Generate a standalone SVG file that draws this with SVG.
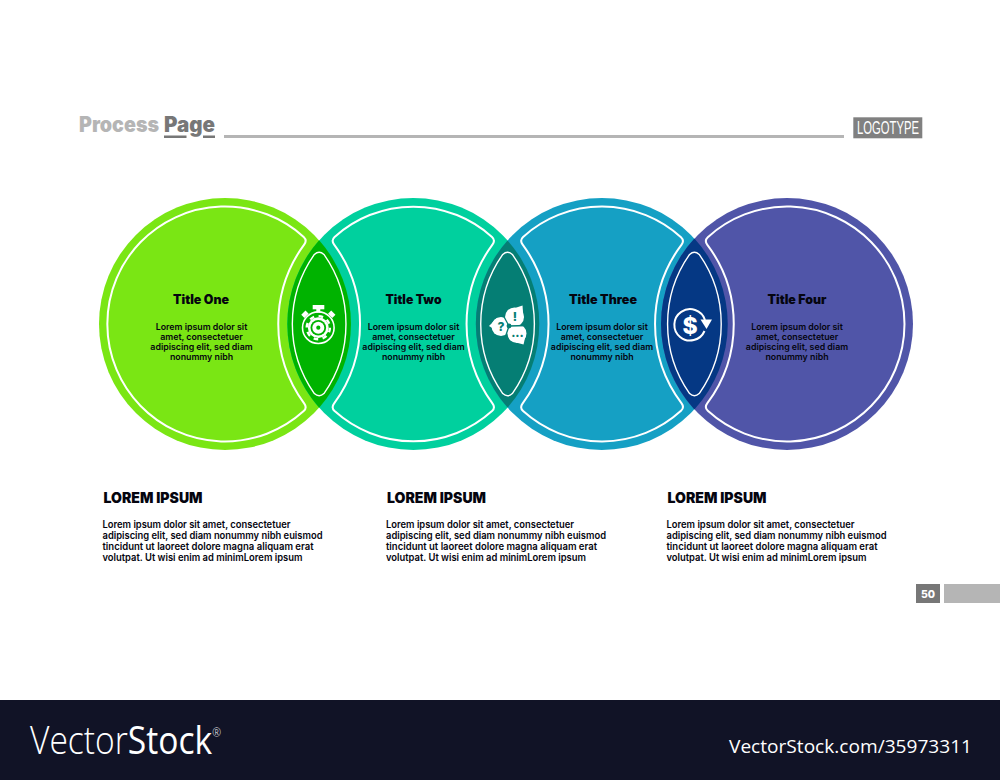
<svg xmlns="http://www.w3.org/2000/svg" width="1000" height="780" viewBox="0 0 1000 780">
<style>
text{font-family:"Inter","Liberation Sans",sans-serif;fill:#05050f}
.t{font-size:12.5px;font-weight:900;text-anchor:middle}
.b{font-size:8.8px;font-weight:600;text-anchor:middle}
.h{font-size:14.5px;font-weight:900}
.p{font-size:10.2px;font-weight:600}
.o{fill:none;stroke:#fff;stroke-width:2}
.l{fill:none;stroke:#fff;stroke-width:1.4}
.w{fill:#fff}
</style>
<defs>
<path id="lensIn" d="M4.8,-69.6A121 121 0 0 1 4.8,69.6Q0,74 -4.8,69.6A121 121 0 0 1 -4.8,-69.6Q0,-74 4.8,-69.6Z"/>
</defs>
<rect width="1000" height="780" fill="#fff"/>
<g id="header">
<text x="79" y="131.5" style="font-size:21px;font-weight:900;fill:#b5b5b5" textLength="80" lengthAdjust="spacingAndGlyphs">Process</text>
<text x="164" y="131.5" style="font-size:21px;font-weight:900;fill:#777" textLength="51" lengthAdjust="spacingAndGlyphs">Page</text>
<rect x="164" y="135.5" width="22.5" height="2.5" fill="#777"/>
<rect x="203" y="135.5" width="12" height="2.5" fill="#777"/>
<rect x="224" y="135" width="620" height="3" fill="#b5b5b5"/>
<rect x="853.3" y="117.3" width="69" height="21" fill="#808080"/>
<text x="888" y="133.5" style="font-family:'Liberation Sans Narrow','Liberation Sans',sans-serif;font-size:18px;fill:#fff;text-anchor:middle" textLength="62" lengthAdjust="spacingAndGlyphs">LOGOTYPE</text>
</g>
<g id="circles">
<circle id="c1" cx="225" cy="324" r="126" fill="#7ae614"/>
<circle id="c2" cx="413.3" cy="324" r="126" fill="#00d09e"/>
<circle id="c3" cx="601.8" cy="324" r="126" fill="#15a0c4"/>
<circle id="c4" cx="787" cy="324" r="126" fill="#5055a8"/>
</g>
<g id="lenses">
<path d="M319.15,240.3A126 126 0 0 1 319.15,407.7A126 126 0 0 1 319.15,240.3Z" fill="#00b300"/>
<path d="M507.55,240.4A126 126 0 0 1 507.55,407.6A126 126 0 0 1 507.55,240.4Z" fill="#057e74"/>
<path d="M694.4,238.6A126 126 0 0 1 694.4,409.4A126 126 0 0 1 694.4,238.6Z" fill="#053884"/>
</g>
<g id="node-1">
<path class="o" transform="translate(225 324)" d="M78.7,87.1A117.5 117.5 0 1 1 78.7,-87.1Q82.3,-83.7 79.3,-79.7A135 135 0 0 0 79.3,79.7Q82.3,83.7 78.7,87.1Z"/>
<text class="t" x="201" y="304" textLength="56" lengthAdjust="spacingAndGlyphs">Title One</text>
<text class="b" x="201.5" y="329.5">Lorem ipsum dolor sit</text>
<text class="b" x="201.5" y="339.5">amet, consectetuer</text>
<text class="b" x="201.5" y="349.5">adipiscing elit, sed diam</text>
<text class="b" x="201.5" y="359.5">nonummy nibh</text>
</g>
<g id="node-2">
<path class="o" transform="translate(413.3 324)" d="M-78.7,-87.1A117.5 117.5 0 0 1 78.7,-87.1Q82.3,-83.7 79.3,-79.7A135 135 0 0 0 79.3,79.7Q82.3,83.7 78.7,87.1A117.5 117.5 0 0 1 -78.7,87.1Q-82.3,83.7 -79.3,79.7A135 135 0 0 0 -79.3,-79.7Q-82.3,-83.7 -78.7,-87.1Z"/>
<text class="t" x="413.5" y="304" textLength="56" lengthAdjust="spacingAndGlyphs">Title Two</text>
<text class="b" x="413.5" y="329.5">Lorem ipsum dolor sit</text>
<text class="b" x="413.5" y="339.5">amet, consectetuer</text>
<text class="b" x="413.5" y="349.5">adipiscing elit, sed diam</text>
<text class="b" x="413.5" y="359.5">nonummy nibh</text>
</g>
<g id="node-3">
<path class="o" transform="translate(601.8 324)" d="M-78.7,-87.1A117.5 117.5 0 0 1 79.2,-86.8Q82.8,-83.4 79.8,-79.4A132 132 0 0 0 79.8,79.4Q82.8,83.4 79.2,86.8A117.5 117.5 0 0 1 -78.7,87.1Q-82.3,83.7 -79.3,79.7A135 135 0 0 0 -79.3,-79.7Q-82.3,-83.7 -78.7,-87.1Z"/>
<text class="t" x="603" y="304" textLength="68" lengthAdjust="spacingAndGlyphs">Title Three</text>
<text class="b" x="602" y="329.5">Lorem ipsum dolor sit</text>
<text class="b" x="602" y="339.5">amet, consectetuer</text>
<text class="b" x="602" y="349.5">adipiscing elit, sed diam</text>
<text class="b" x="602" y="359.5">nonummy nibh</text>
</g>
<g id="node-4">
<path class="o" transform="translate(787 324)" d="M-79.2,-86.8A117.5 117.5 0 1 1 -79.2,86.8Q-82.8,83.4 -79.8,79.4A132 132 0 0 0 -79.8,-79.4Q-82.8,-83.4 -79.2,-86.8Z"/>
<text class="t" x="797" y="304" textLength="59" lengthAdjust="spacingAndGlyphs">Title Four</text>
<text class="b" x="797" y="329.5">Lorem ipsum dolor sit</text>
<text class="b" x="797" y="339.5">amet, consectetuer</text>
<text class="b" x="797" y="349.5">adipiscing elit, sed diam</text>
<text class="b" x="797" y="359.5">nonummy nibh</text>
</g>
<g id="lens-1">
<use href="#lensIn" x="319.15" y="324" class="l"/>
<g id="icon-stopwatch">
<circle cx="318.3" cy="327.7" r="15.8" fill="none" stroke="#fff" stroke-width="1.6"/>
<rect x="312.7" y="305" width="11.6" height="4.3" class="w"/>
<rect x="316.3" y="309" width="4" height="3.5" class="w"/>
<rect x="302" y="312" width="6" height="4.5" class="w" transform="rotate(-45 305 314.3)"/>
<rect x="328.7" y="312" width="6" height="4.5" class="w" transform="rotate(45 331.7 314.3)"/>
<circle cx="318.3" cy="327.7" r="10.4" class="w"/>
<circle cx="318.3" cy="327.7" r="11.6" fill="none" stroke="#fff" stroke-width="2.4" stroke-dasharray="4.6 4.5"/>
<circle cx="318.3" cy="327.7" r="7.8" fill="#00b300"/>
<circle cx="318.3" cy="327.7" r="6" class="w"/>
<circle cx="318.3" cy="327.7" r="2.1" fill="#00b300"/>
</g>
</g>
<g id="lens-2">
<use href="#lensIn" x="507.55" y="324" class="l"/>
<g id="icon-chat">
<circle cx="514.5" cy="317" r="9.5" class="w"/>
<circle cx="517" cy="333.5" r="9.5" class="w"/>
<circle cx="501" cy="326.5" r="9.5" class="w"/>
<polygon points="515,308 522.5,305.5 523.5,318" class="w"/>
<polygon points="526,334 523.5,344.5 516,342.5" class="w"/>
<polygon points="497,318 489,326 497,331" class="w"/>
<path d="M509,326L503,315M509,326L527,325.5M509,326L505,338" stroke="#057e74" stroke-width="1.3" fill="none"/>
<circle cx="509" cy="326" r="2.4" fill="#057e74"/>
<text x="501" y="331" style="font-size:12px;font-weight:800;fill:#057e74;text-anchor:middle">?</text>
<text x="514.8" y="321" style="font-size:12px;font-weight:800;fill:#057e74;text-anchor:middle">!</text>
<text x="517.5" y="336.5" style="font-size:12px;font-weight:800;fill:#057e74;text-anchor:middle">...</text>
</g>
</g>
<g id="lens-3">
<use href="#lensIn" x="694.4" y="324" class="l"/>
<g id="icon-dollar">
<path d="M705,320A15.7 15.7 0 1 0 704.5,331" fill="none" stroke="#fff" stroke-width="2"/>
<polygon points="700.5,319.5 712,319.5 706.5,329" class="w"/>
<text x="690" y="333.5" style="font-size:23px;font-weight:800;fill:#fff;text-anchor:middle">$</text>
</g>
</g>
<g id="column-1">
<text class="h" x="103.5" y="503" textLength="99" lengthAdjust="spacingAndGlyphs">LOREM IPSUM</text>
<text class="p" x="102.5" y="527.5" textLength="188" lengthAdjust="spacingAndGlyphs">Lorem ipsum dolor sit amet, consectetuer</text>
<text class="p" x="102.5" y="538.5" textLength="220" lengthAdjust="spacingAndGlyphs">adipiscing elit, sed diam nonummy nibh euismod</text>
<text class="p" x="102.5" y="550" textLength="211" lengthAdjust="spacingAndGlyphs">tincidunt ut laoreet dolore magna aliquam erat</text>
<text class="p" x="102.5" y="561" textLength="200" lengthAdjust="spacingAndGlyphs">volutpat. Ut wisi enim ad minimLorem ipsum</text>
</g>
<g id="column-2">
<text class="h" x="387" y="503" textLength="99" lengthAdjust="spacingAndGlyphs">LOREM IPSUM</text>
<text class="p" x="386" y="527.5" textLength="188" lengthAdjust="spacingAndGlyphs">Lorem ipsum dolor sit amet, consectetuer</text>
<text class="p" x="386" y="538.5" textLength="220" lengthAdjust="spacingAndGlyphs">adipiscing elit, sed diam nonummy nibh euismod</text>
<text class="p" x="386" y="550" textLength="211" lengthAdjust="spacingAndGlyphs">tincidunt ut laoreet dolore magna aliquam erat</text>
<text class="p" x="386" y="561" textLength="200" lengthAdjust="spacingAndGlyphs">volutpat. Ut wisi enim ad minimLorem ipsum</text>
</g>
<g id="column-3">
<text class="h" x="667.5" y="503" textLength="99" lengthAdjust="spacingAndGlyphs">LOREM IPSUM</text>
<text class="p" x="666.5" y="527.5" textLength="188" lengthAdjust="spacingAndGlyphs">Lorem ipsum dolor sit amet, consectetuer</text>
<text class="p" x="666.5" y="538.5" textLength="220" lengthAdjust="spacingAndGlyphs">adipiscing elit, sed diam nonummy nibh euismod</text>
<text class="p" x="666.5" y="550" textLength="211" lengthAdjust="spacingAndGlyphs">tincidunt ut laoreet dolore magna aliquam erat</text>
<text class="p" x="666.5" y="561" textLength="200" lengthAdjust="spacingAndGlyphs">volutpat. Ut wisi enim ad minimLorem ipsum</text>
</g>
<g id="page">
<rect x="916" y="584" width="24" height="19" fill="#777"/>
<text x="928" y="598" style="font-size:10.5px;font-weight:800;fill:#fff;text-anchor:middle">50</text>
<rect x="944" y="584" width="56" height="19" fill="#b5b5b5"/>
</g>
<g id="footer">
<rect y="700" width="1000" height="80" fill="#111326"/>
<text x="30" y="754" style="font-family:'Open Sans',sans-serif;font-size:38px;font-weight:300;fill:#fff" textLength="191" lengthAdjust="spacingAndGlyphs">Vector<tspan style="font-weight:500;fill:#fff">Stock</tspan><tspan dy="-17" style="font-size:12px;fill:#fff">®</tspan></text>
<text x="729" y="753" style="font-family:'Open Sans',sans-serif;font-size:19px;fill:#fff" textLength="243" lengthAdjust="spacingAndGlyphs">VectorStock.com/35973311</text>
</g>
</svg>
